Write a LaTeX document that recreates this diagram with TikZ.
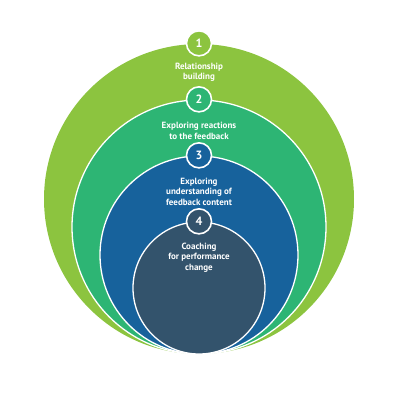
\documentclass[tikz,border=0pt]{standalone}
\usepackage{fontspec}
\setmainfont{PT Sans}
\definecolor{cA}{HTML}{8CC43F}
\definecolor{cB}{HTML}{2DB574}
\definecolor{cC}{HTML}{17629C}
\definecolor{cD}{HTML}{33536C}
\begin{document}
\begin{tikzpicture}[x=1pt,y=-1pt,
  ring/.style={circle,inner sep=0pt,draw=white,line width=1.3pt},
  badge/.style={circle,inner sep=0pt,minimum size=25pt,draw=white,line width=1.6pt,text=white,font=\fontsize{12}{14}\selectfont\bfseries},
  lab/.style={align=center,text=white,font=\fontsize{9}{10.4}\selectfont\bfseries,inner sep=0pt}]
\useasboundingbox (0,0) rectangle (400,400);
\node[ring,draw=none,fill=cA,minimum size=310pt] (c1) at (199,199) {};
\node[ring,fill=cB,minimum size=254pt] (c2) at (199,227) {};
\node[ring,fill=cC,minimum size=198pt] (c3) at (199,255) {};
\node[ring,fill=cD,minimum size=132pt] (c4) at (199,288) {};
\node[badge,fill=cA] (b1) at (c1.north) {1};
\node[badge,fill=cB] (b2) at (c2.north) {2};
\node[badge,fill=cC] (b3) at (c3.north) {3};
\node[badge,fill=cD] (b4) at (c4.north) {4};
\node[lab] (t1) at (199,72) {Relationship\\building};
\node[lab] (t2) at (199,131) {Exploring reactions\\to the feedback};
\node[lab] (t3) at (199,191.5) {Exploring\\understanding of\\feedback content};
\node[lab] (t4) at (199,257.5) {Coaching\\for performance\\change};
\end{tikzpicture}
\end{document}
